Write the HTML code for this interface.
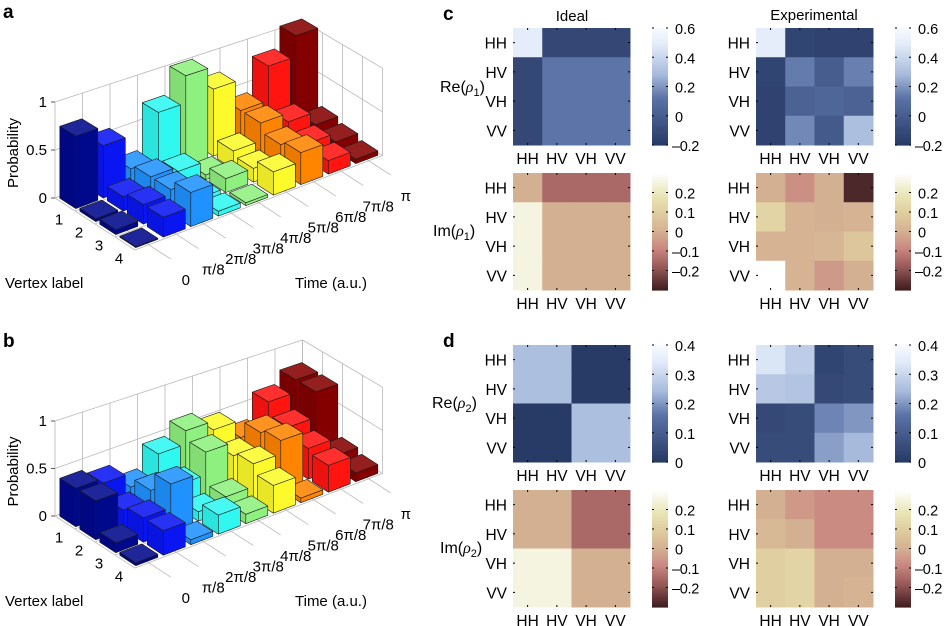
<!DOCTYPE html>
<html><head><meta charset="utf-8">
<style>
html,body{margin:0;padding:0;background:#fff;}
svg{display:block;font-family:"Liberation Sans",sans-serif;}
</style></head>
<body>
<svg id="fig" width="946" height="626" viewBox="0 0 946 626">
  <text x="3" y="18" font-size="19" font-weight="bold">a</text>
  <text x="3" y="347" font-size="19" font-weight="bold">b</text>
  <text x="443" y="20" font-size="19" font-weight="bold">c</text>
  <text x="443" y="347" font-size="19" font-weight="bold">d</text>
  <text x="572" y="21" font-size="15" text-anchor="middle">Ideal</text>
  <text x="814" y="20" font-size="15" text-anchor="middle">Experimental</text>
  <text x="440" y="92" font-size="16">Re(<tspan font-style="italic" font-family="Liberation Serif, serif">ρ</tspan><tspan font-size="11" dy="4">1</tspan><tspan dy="-4">)</tspan></text>
  <text x="433" y="236" font-size="16">Im(<tspan font-style="italic" font-family="Liberation Serif, serif">ρ</tspan><tspan font-size="11" dy="4">1</tspan><tspan dy="-4">)</tspan></text>
  <text x="432" y="408" font-size="16">Re(<tspan font-style="italic" font-family="Liberation Serif, serif">ρ</tspan><tspan font-size="11" dy="4">2</tspan><tspan dy="-4">)</tspan></text>
  <text x="440" y="553" font-size="16">Im(<tspan font-style="italic" font-family="Liberation Serif, serif">ρ</tspan><tspan font-size="11" dy="4">2</tspan><tspan dy="-4">)</tspan></text>
  <g id="layer"></g>
</svg>
<script>
// ---------- bar chart data ----------
const vertexLabels = ['1','2','3','4'];
const timeLabels = ['0','π/8','2π/8','3π/8','4π/8','5π/8','6π/8','7π/8','π'];
const zTicks = [0, 0.5, 1];
const zTickLabels = ['0','0.5','1'];
const timeColors = ['#00088c','#0a16f2','#1f92ff','#2ef8f0','#8ef07e','#fcfa2a','#ff8400','#ff1410','#840000'];
// probability per time step, [v1,v2,v3,v4]
const probA = [
  [0.75,0.03,0.05,0.01],
  [0.55,0.15,0.20,0.20],
  [0.20,0.25,0.25,0.35],
  [0.70,0.20,0.05,0.05],
  [1.00,0.05,0.15,0.03],
  [0.75,0.20,0.15,0.25],
  [0.40,0.40,0.30,0.35],
  [0.80,0.30,0.20,0.15],
  [1.05,0.15,0.10,0.05]
];
const probB = [
  [0.40,0.40,0.10,0.03],
  [0.35,0.20,0.25,0.25],
  [0.20,0.30,0.50,0.05],
  [0.45,0.25,0.10,0.20],
  [0.60,0.50,0.15,0.10],
  [0.50,0.35,0.40,0.30],
  [0.30,0.50,0.55,0.05],
  [0.60,0.45,0.35,0.30],
  [0.75,0.75,0.15,0.10]
];
// ---------- heatmap data ----------
const basisLabels = ['HH','HV','VH','VV'];
const re1Ideal = [[0.5,-0.125,-0.125,-0.125],[-0.125,0.125,0.125,0.125],[-0.125,0.125,0.125,0.125],[-0.125,0.125,0.125,0.125]];
const re1Exp = [[0.5,-0.14,-0.15,-0.15],[-0.14,0.14,0.0,0.15],[-0.15,0.03,0.05,0.03],[-0.15,0.17,-0.02,0.3]];
const im1Ideal = [[0,-0.15,-0.15,-0.15],[0.25,0,0,0],[0.25,0,0,0],[0.25,0,0,0]];
const im1Exp = [[0,-0.07,0,-0.28],[0.12,0.01,0,0.01],[0.01,0.01,0.02,0.07],[0.3,0.01,-0.05,0]];
const re2Ideal = [[0.25,0.25,0,0],[0.25,0.25,0,0],[0,0,0.25,0.25],[0,0,0.25,0.25]];
const re2Exp = [[0.33,0.28,0.03,0.05],[0.27,0.26,0.04,0.05],[0.04,0.05,0.18,0.2],[0.05,0.05,0.21,0.24]];
const im2Ideal = [[0,0,-0.15,-0.15],[0,0,-0.15,-0.15],[0.25,0.25,0,0],[0.25,0.25,0,0]];
const im2Exp = [[0,-0.05,-0.08,-0.08],[0.03,0,-0.08,-0.08],[0.1,0.12,0,0],[0.1,0.12,0,0.01]];
const reTicks1 = [0.6,0.4,0.2,0,-0.2];
const reTicks2 = [0.4,0.3,0.2,0.1,0];
const imTicks = [0.2,0.1,0,-0.1,-0.2];

const NS='http://www.w3.org/2000/svg';
const layer=document.getElementById('layer');
function mk(tag,attrs,parent){const e=document.createElementNS(NS,tag);for(const k in attrs)e.setAttribute(k,attrs[k]);(parent||layer).appendChild(e);return e;}
function hex2rgb(h){return [parseInt(h.substr(1,2),16),parseInt(h.substr(3,2),16),parseInt(h.substr(5,2),16)];}
function rgb(a){return 'rgb('+a.map(x=>Math.round(Math.max(0,Math.min(255,x)))).join(',')+')';}
function shade(h,f){const c=hex2rgb(h);return rgb(f>0?c.map(x=>x+(255-x)*f):c.map(x=>x*(1+f)));}

// ---------- 3D bar charts ----------
const VX=20,VY=13,TX=27.5,TY=-10.5;
function P(o,v,t,z){
  const zs=o.zs-(t+0.5)*1.5+(v-0.5)*1.2;
  return [o.x+(v-0.5)*VX+(t+0.5)*TX, o.y+(v-0.5)*VY+(t+0.5)*TY-z*zs];
}
function pts(a){return a.map(p=>p[0].toFixed(1)+','+p[1].toFixed(1)).join(' ');}
function line(o,a,b,g,col){const p=P(o,...a),q=P(o,...b);mk('line',{x1:p[0],y1:p[1],x2:q[0],y2:q[1],stroke:col||'#b8b8b8','stroke-width':0.8},g);}

function drawBars(o,data,name){
  const g=mk('g',{});
  
  
  const nt=timeLabels.length, nv=vertexLabels.length;
  zTicks.forEach(z=>line(o,[0.5,-0.5,z],[0.5,nt-0.5,z],g));
  for(let t=-0.5;t<=nt-0.5;t+=1) line(o,[0.5,t,0],[0.5,t,1],g);
  zTicks.forEach(z=>line(o,[0.5,nt-0.5,z],[nv+0.5,nt-0.5,z],g));
  for(let v=0.5;v<=nv+0.5;v+=1) line(o,[v,nt-0.5,0],[v,nt-0.5,1],g);
  for(let v=0.5;v<=nv+0.5;v+=1) line(o,[v,-0.5,0],[v,nt-0.5,0],g);
  for(let t=0;t<nt;t++) line(o,[0.5,t,0],[nv+1.6,t,0],g);
  line(o,[0.5,-0.5,0],[nv+0.5,-0.5,0],g);
  zTicks.forEach((z,i)=>{
    const p=P(o,0.5,-0.5,z);
    mk('line',{x1:p[0]-4,y1:p[1],x2:p[0],y2:p[1],stroke:'#333','stroke-width':0.8},g);
    const tx=mk('text',{x:p[0]-8,y:p[1]+5,'font-size':15,'text-anchor':'end'},g);
    tx.textContent=zTickLabels[i];
    
    
  });
  const pm=P(o,0.5,-0.5,0.5);
  const yl=mk('text',{x:0,y:0,'font-size':15,'text-anchor':'middle',transform:'translate('+(pm[0]-37)+','+(pm[1]+3)+') rotate(-90)'},g);
  yl.textContent='Probability';
  
  
  vertexLabels.forEach((lab,i)=>{
    const p=P(o,i+1,-0.5,0);
    const tx=mk('text',{x:p[0]-6,y:p[1]+20,'font-size':15,'text-anchor':'middle'},g);
    tx.textContent=lab;
    
    
  });
  timeLabels.forEach((lab,i)=>{
    const p=P(o,nv+0.5,i,0);
    const tx=mk('text',{x:p[0]+37,y:p[1]+40,'font-size':15,'text-anchor':'middle'},g);
    tx.textContent=lab;
    
    
  });
  const vl=mk('text',{x:5,y:o.y+90,'font-size':15},g);
  vl.textContent='Vertex label';
  
  
  const tl=mk('text',{x:295,y:o.y+90,'font-size':15},g);
  tl.textContent='Time (a.u.)';
  
  
  for(let t=nt-1;t>=0;t--){
    for(let v=1;v<=nv;v++){
      const h=data[t][v-1];
      const v0=v-0.4,v1=v+0.4,t0=t-0.4,t1=t+0.4,c=timeColors[t];
      const bg=mk('g',{},g);
      
      
      const st={stroke:'#1a1a1a','stroke-width':0.6,'stroke-linejoin':'round'};
      mk('polygon',Object.assign({points:pts([P(o,v0,t0,0),P(o,v1,t0,0),P(o,v1,t0,h),P(o,v0,t0,h)]),fill:shade(c,-0.08)},st),bg);
      mk('polygon',Object.assign({points:pts([P(o,v1,t0,0),P(o,v1,t1,0),P(o,v1,t1,h),P(o,v1,t0,h)]),fill:c},st),bg);
      mk('polygon',Object.assign({points:pts([P(o,v0,t0,h),P(o,v0,t1,h),P(o,v1,t1,h),P(o,v1,t0,h)]),fill:shade(c,0.12)},st),bg);
    }
  }
}
drawBars({x:55,y:198,zs:96},probA,'bar-chart-a');
drawBars({x:55,y:516,zs:95},probB,'bar-chart-b');

// ---------- heatmaps ----------
const reStops=[[0,'#283a66'],[0.4,'#5a72a6'],[0.6,'#a7badc'],[0.85,'#e0eaf8'],[1,'#f8fbff']];
const imStops=[[0,'#3e1e20'],[0.2,'#9a5a5a'],[0.35,'#c98680'],[0.5,'#d4b092'],[0.65,'#dfcc9e'],[0.8,'#e8e4b4'],[1,'#ffffff']];
function cmap(stops,f){
  f=Math.max(0,Math.min(1,f));
  for(let i=1;i<stops.length;i++){
    if(f<=stops[i][0]){
      const a=stops[i-1],b=stops[i],u=(f-a[0])/(b[0]-a[0]);
      const ca=hex2rgb(a[1]),cb=hex2rgb(b[1]);
      return rgb(ca.map((x,k)=>x+(cb[k]-x)*u));
    }
  }
  return stops[stops.length-1][1];
}
const HS=117;
function heatmap(x,y,mat,stops,lo,hi,name){
  const g=mk('g',{});
  
  
  const cs=HS/4;
  mat.forEach((row,r)=>row.forEach((val,c)=>{
    const rc=mk('rect',{x:x+c*cs,y:y+r*cs,width:cs+0.5,height:cs+0.5,fill:cmap(stops,(val-lo)/(hi-lo))},g);
    
    
  }));
  for(let i=0;i<4;i++){
    const cx=x+(i+0.5)*cs, cy=y+(i+0.5)*cs;
    mk('line',{x1:cx,y1:y,x2:cx,y2:y+2,stroke:'#000','stroke-width':1},g);
    mk('line',{x1:cx,y1:y+HS,x2:cx,y2:y+HS-2,stroke:'#000','stroke-width':1},g);
    mk('line',{x1:x,y1:cy,x2:x+2,y2:cy,stroke:'#000','stroke-width':1},g);
    mk('line',{x1:x+HS,y1:cy,x2:x+HS-2,y2:cy,stroke:'#000','stroke-width':1},g);
    const rl=mk('text',{x:x-6,y:cy+6,'font-size':15.5,'text-anchor':'end'},g);
    rl.textContent=basisLabels[i];
    
    
    const cl=mk('text',{x:cx,y:y+HS+19,'font-size':15.5,'text-anchor':'middle'},g);
    cl.textContent=basisLabels[i];
    
    
  }
}
function colorbar(x,y,stops,lo,hi,ticks,name){
  const g=mk('g',{});
  
  
  const n=60;
  for(let i=0;i<n;i++){
    const f=1-(i+0.5)/n;
    mk('rect',{x:x,y:y+i*HS/n,width:16,height:HS/n+0.6,fill:cmap(stops,f)},g);
  }
  ticks.forEach(tv=>{
    const ty=y+HS*(hi-tv)/(hi-lo);
    mk('line',{x1:x,y1:ty,x2:x+2,y2:ty,stroke:'#000','stroke-width':1},g);
    mk('line',{x1:x+16,y1:ty,x2:x+14,y2:ty,stroke:'#000','stroke-width':1},g);
    const neg=tv<0;
    const t=mk('text',{x:neg?x+20:x+23,y:ty+6,'font-size':14.5,'letter-spacing':neg?'-0.3':'0'},g);
    t.textContent=(neg?'–':'')+String(Math.abs(tv));
    
    
  });
}
const X1=513,X2=756,CB1=652,CB2=895;
const YR1=28,YI1=173,YR2=345,YI2=490;
heatmap(X1,YR1,re1Ideal,reStops,-0.2,0.6,'re-rho1-ideal-heatmap');
heatmap(X2,YR1,re1Exp,reStops,-0.2,0.6,'re-rho1-experimental-heatmap');
heatmap(X1,YI1,im1Ideal,imStops,-0.3,0.3,'im-rho1-ideal-heatmap');
heatmap(X2,YI1,im1Exp,imStops,-0.3,0.3,'im-rho1-experimental-heatmap');
heatmap(X1,YR2,re2Ideal,reStops,0,0.4,'re-rho2-ideal-heatmap');
heatmap(X2,YR2,re2Exp,reStops,0,0.4,'re-rho2-experimental-heatmap');
heatmap(X1,YI2,im2Ideal,imStops,-0.3,0.3,'im-rho2-ideal-heatmap');
heatmap(X2,YI2,im2Exp,imStops,-0.3,0.3,'im-rho2-experimental-heatmap');
colorbar(CB1,YR1,reStops,-0.2,0.6,reTicks1,'re-rho1-ideal-colorbar');
colorbar(CB2,YR1,reStops,-0.2,0.6,reTicks1,'re-rho1-experimental-colorbar');
colorbar(CB1,YI1,imStops,-0.3,0.3,imTicks,'im-rho1-ideal-colorbar');
colorbar(CB2,YI1,imStops,-0.3,0.3,imTicks,'im-rho1-experimental-colorbar');
colorbar(CB1,YR2,reStops,0,0.4,reTicks2,'re-rho2-ideal-colorbar');
colorbar(CB2,YR2,reStops,0,0.4,reTicks2,'re-rho2-experimental-colorbar');
colorbar(CB1,YI2,imStops,-0.3,0.3,imTicks,'im-rho2-ideal-colorbar');
colorbar(CB2,YI2,imStops,-0.3,0.3,imTicks,'im-rho2-experimental-colorbar');
</script>
</body></html>
